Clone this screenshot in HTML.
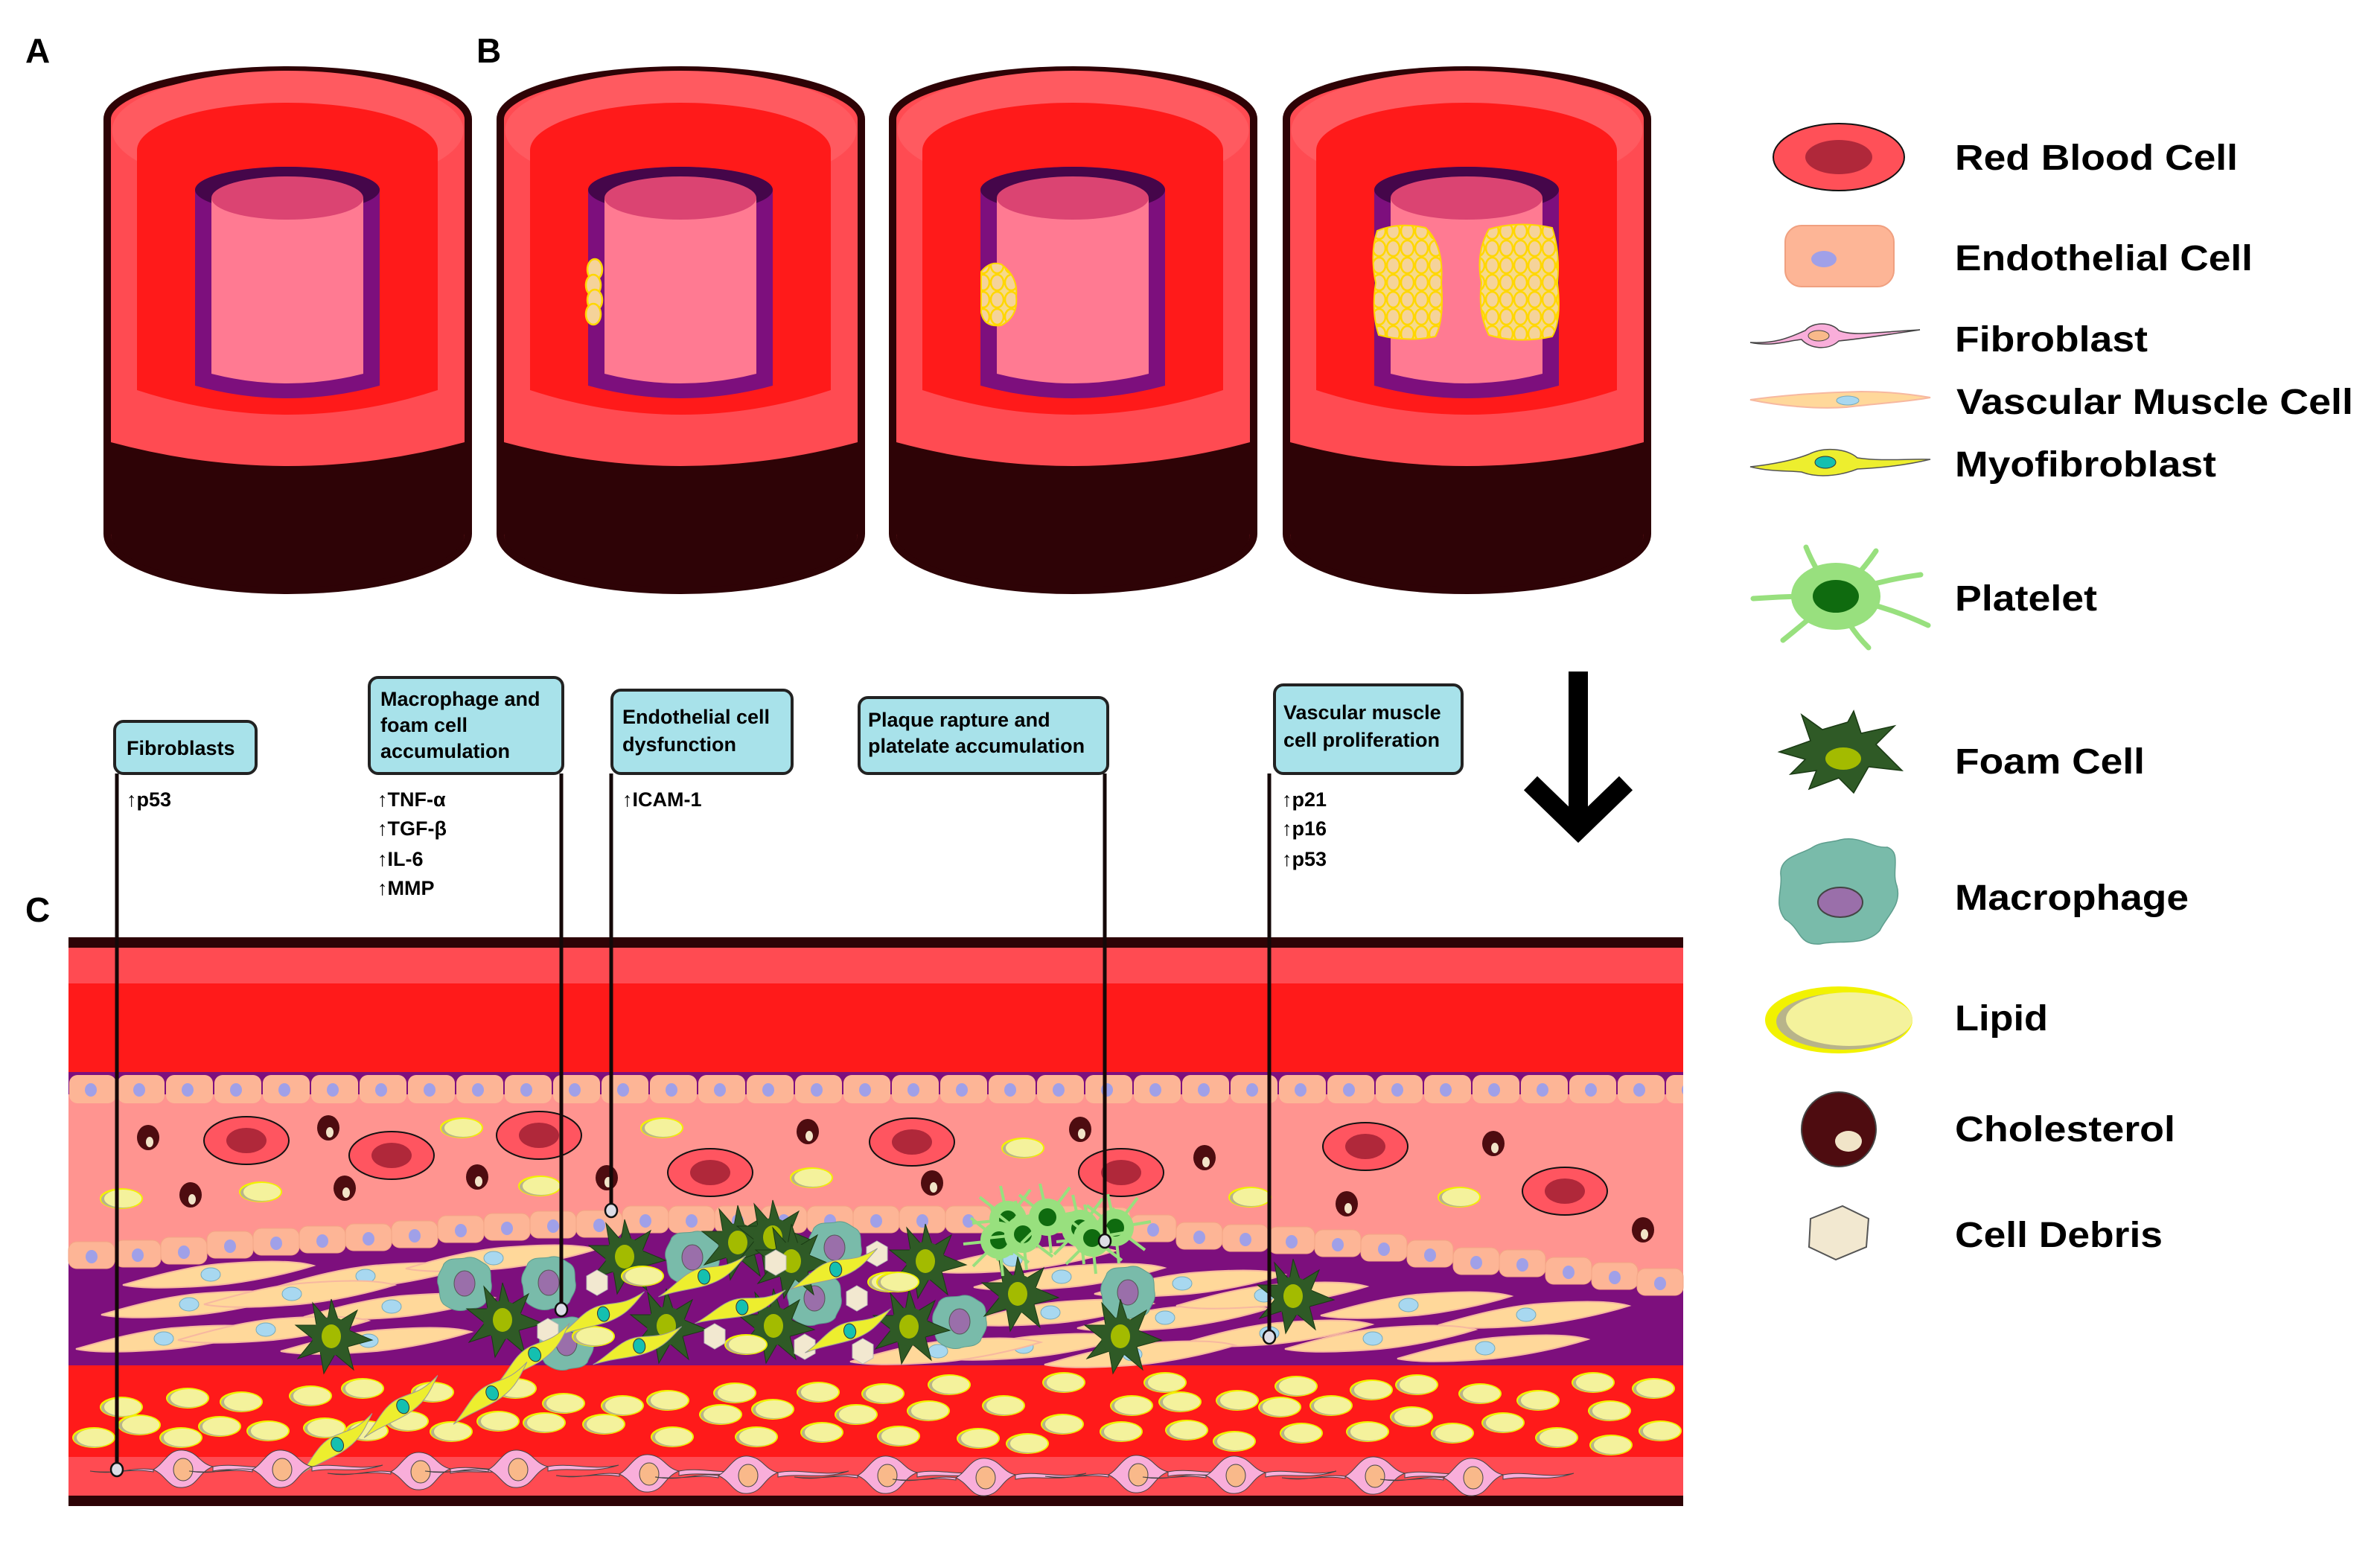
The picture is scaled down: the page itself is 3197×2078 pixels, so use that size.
<!DOCTYPE html>
<html><head><meta charset="utf-8"><style>
html,body{margin:0;padding:0;background:#fff;}
svg{display:block;}
text{font-family:"Liberation Sans",Arial,sans-serif;font-weight:bold;fill:#000;}
</style></head><body>
<svg width="3197" height="2078" viewBox="0 0 3197 2078" xmlns="http://www.w3.org/2000/svg">
<defs>
<pattern id="lipP" x="0" y="0" width="19" height="23" patternUnits="userSpaceOnUse">
<rect width="19" height="23" fill="#F6D98A"/>
<ellipse cx="9.5" cy="11.5" rx="8.5" ry="10.5" fill="#F5D39A" stroke="#FFD700" stroke-width="2.5"/>
</pattern>
<pattern id="enp" x="92" y="1444" width="65" height="38" patternUnits="userSpaceOnUse">
<rect x="1" y="0" width="63" height="38" rx="11" fill="#FDB596"/>
<ellipse cx="30" cy="20" rx="8" ry="9" fill="#A0A0E8"/>
</pattern>
<g id="cyl">
<path d="M0,160 A242.5,66 0 0 1 485,160 L485,717 A242.5,76 0 0 1 0,717 Z" fill="#FF4B52" stroke="#2E0306" stroke-width="10"/>
<ellipse cx="242.5" cy="175" rx="236" ry="80" fill="#FF5A60"/>
<path d="M5,594 Q242.5,658 480,594 L480,717 A237.5,72 0 0 1 5,717 Z" fill="#2E0306"/>
<path d="M40,202 A202,64 0 0 1 444,202 L444,524 Q242.5,590 40,524 Z" fill="#FF1A1A"/>
<path d="M118,255 A124,31 0 0 1 366,255 L366,518 Q242,552 118,518 Z" fill="#7D0F7D"/>
<ellipse cx="242" cy="255" rx="124" ry="31" fill="#45064A"/>
<path d="M140,266 L344,266 L344,502 Q242,528 140,502 Z" fill="#FF7A92"/>
<ellipse cx="242" cy="266" rx="102" ry="29" fill="#DB4472"/>
</g>
<g id="en"><rect x="-31" y="-18" width="62" height="36" rx="11" fill="#FDB596" stroke="#F3A585" stroke-width="1"/><ellipse cx="0" cy="2" rx="8" ry="9" fill="#A0A0E8"/></g>
<g id="rbc"><ellipse rx="57" ry="32" fill="#FF5560" stroke="#111" stroke-width="2"/><ellipse rx="27" ry="17" fill="#B0283A"/></g>
<g id="ch"><ellipse rx="15" ry="17" fill="#4E0C10"/><ellipse cx="2" cy="6" rx="5" ry="7" fill="#F1E4C8"/></g>
<g id="lp"><ellipse rx="29" ry="14" fill="#F2F200"/><ellipse cx="-1" cy="1" rx="26" ry="12" fill="#B8B48A"/><ellipse cx="2" cy="0" rx="25" ry="12" fill="#F4F29C"/></g>
<g id="vm"><path d="M-128 14 C-80 0 -40 -10 0 -14 C50 -18 100 -20 128 -12 C90 0 40 10 0 14 C-50 18 -100 20 -128 14Z" fill="#FFD89A" stroke="#F7B8A0" stroke-width="2"/><ellipse cx="-10" cy="0" rx="13" ry="9" fill="#A8D8F0" stroke="#7AB" stroke-width="1"/></g>
<g id="fo"><path d="M0,-50 L10,-20 L35,-35 L24,-8 L55,5 L22,14 L30,45 L5,24 L-10,50 L-15,20 L-45,30 L-24,4 L-48,-15 L-20,-15 L-25,-45 L-5,-22 Z" fill="#2F5A26" stroke="#1a3a14" stroke-width="1"/><circle r="26" fill="#2F5A26"/><ellipse rx="13" ry="16" fill="#A3BB00"/></g>
<g id="ma"><path d="M0,-34 C14,-38 20,-30 28,-26 C38,-20 34,-8 36,0 C38,12 30,18 28,26 C20,36 8,32 0,36 C-10,38 -20,34 -28,28 C-36,20 -32,8 -36,0 C-38,-12 -30,-18 -28,-26 C-20,-36 -10,-32 0,-34Z" fill="#79BBAA" stroke="#5E9E8E" stroke-width="1"/><ellipse rx="14" ry="17" fill="#9A6FAA" stroke="#555" stroke-width="1"/></g>
<g id="my"><path d="M-65 14 C-40 4 -25 -14 0 -14 C20 -14 30 -8 60 -20 C40 -4 30 6 0 10 C-25 12 -40 10 -65 14Z" fill="#EDEE2E" stroke="#999" stroke-width="1"/><ellipse cx="0" cy="-2" rx="8" ry="10" fill="#14C0B0" stroke="#333" stroke-width="1"/></g>
<g id="db"><polygon points="0,-17 14,-9 14,9 0,17 -14,9 -14,-9" fill="#F2E8D0" stroke="#BBB" stroke-width="1"/></g>
<g id="pl"><g stroke="#98E07E" stroke-width="4" fill="none"><path d="M0,0 L-10,-45"/><path d="M0,0 L30,-40"/><path d="M0,0 L48,-8"/><path d="M0,0 L40,30"/><path d="M0,0 L5,48"/><path d="M0,0 L-35,35"/><path d="M0,0 L-48,5"/><path d="M0,0 L-38,-30"/></g><circle r="25" fill="#98E07E"/><circle r="12" fill="#0F6B0F"/></g>
<g id="fb"><path d="M-40,0 C-70,-4 -90,8 -125,2 C-90,6 -70,-2 -40,3Z" fill="#F9AEDA" stroke="#444" stroke-width="1"/><path d="M40,-4 C70,-10 100,2 135,-6 C100,6 70,-4 40,2Z" fill="#F9AEDA" stroke="#444" stroke-width="1"/><path d="M-40,0 C-25,-8 -20,-28 0,-26 C20,-24 22,-8 40,-4 C20,4 20,22 0,24 C-20,26 -22,8 -40,0Z" fill="#F9AEDA" stroke="#444" stroke-width="1"/><ellipse rx="13" ry="15" fill="#F9B98A" stroke="#444" stroke-width="1"/></g>
</defs>

<text x="34" y="84" font-size="46">A</text>
<text x="640" y="84" font-size="46">B</text>
<text x="34" y="1238" font-size="46">C</text>

<use href="#cyl" x="144" y="0"/>
<use href="#cyl" x="672" y="0"/>
<use href="#cyl" x="1199" y="0"/>
<use href="#cyl" x="1728" y="0"/>
<g fill="#F5D39A" stroke="#FFD700" stroke-width="2.5">
<ellipse cx="799" cy="362" rx="10" ry="14"/><ellipse cx="797" cy="383" rx="10" ry="14"/><ellipse cx="799" cy="403" rx="10" ry="14"/><ellipse cx="797" cy="422" rx="10" ry="14"/>
</g>
<path d="M1318,365 Q1330,350 1345,355 Q1368,372 1365,398 Q1368,425 1345,437 Q1322,440 1318,420 Z" fill="url(#lipP)" stroke="#FFD700" stroke-width="2"/>
<path d="M1850,310 Q1880,298 1915,306 Q1940,330 1936,380 Q1940,430 1928,452 Q1890,460 1852,450 Q1842,420 1848,380 Q1840,340 1850,310Z" fill="url(#lipP)" stroke="#FFD700" stroke-width="2"/>
<path d="M2000,308 Q2040,296 2085,306 Q2096,340 2092,380 Q2098,430 2085,452 Q2040,462 2000,450 Q1985,420 1990,380 Q1982,340 2000,308Z" fill="url(#lipP)" stroke="#FFD700" stroke-width="2"/>

<line x1="2120" y1="902" x2="2120" y2="1100" stroke="#000" stroke-width="26"/>
<polyline points="2056,1052 2120,1114 2184,1052" fill="none" stroke="#000" stroke-width="26"/>

<rect x="92" y="1259" width="2169" height="14" fill="#2E0306"/>
<rect x="92" y="1273" width="2169" height="48" fill="#FF4B52"/>
<rect x="92" y="1321" width="2169" height="123" fill="#FF1A1A"/>
<rect x="92" y="1440" width="2169" height="394" fill="#7D0F7D"/>
<polygon points="92,1470 2261,1470 2261,1722 2230,1722 2169,1714 2107,1707 2045,1697 1983,1694 1921,1684 1859,1676 1797,1670 1735,1666 1673,1663 1611,1660 1549,1650 1487,1640 1425,1638 805,1644 743,1645 681,1648 619,1651 557,1658 495,1662 433,1665 371,1668 309,1672 247,1680 185,1684 123,1686 92,1686" fill="#FF9490"/>
<rect x="92" y="1444" width="2169" height="38" fill="url(#enp)"/>
<rect x="92" y="1834" width="2169" height="123" fill="#FF1A1A"/>
<rect x="92" y="1957" width="2169" height="52" fill="#FF4B52"/>
<rect x="92" y="2009" width="2169" height="14" fill="#2E0306"/>

<use href="#rbc" x="331" y="1532"/><use href="#rbc" x="526" y="1552"/><use href="#rbc" x="724" y="1525"/><use href="#rbc" x="954" y="1575"/>
<use href="#rbc" x="1225" y="1534"/><use href="#rbc" x="1506" y="1575"/><use href="#rbc" x="1834" y="1540"/><use href="#rbc" x="2102" y="1600"/>
<use href="#ch" x="199" y="1528"/><use href="#ch" x="441" y="1515"/><use href="#ch" x="256" y="1605"/><use href="#ch" x="463" y="1596"/><use href="#ch" x="641" y="1581"/><use href="#ch" x="815" y="1582"/><use href="#ch" x="1085" y="1520"/>
<use href="#ch" x="1451" y="1517"/><use href="#ch" x="1252" y="1589"/><use href="#ch" x="1618" y="1555"/><use href="#ch" x="2006" y="1536"/><use href="#ch" x="1809" y="1617"/><use href="#ch" x="2207" y="1652"/>
<use href="#lp" x="620" y="1515"/><use href="#lp" x="163" y="1610"/><use href="#lp" x="350" y="1601"/><use href="#lp" x="725" y="1593"/><use href="#lp" x="889" y="1515"/><use href="#lp" x="1090" y="1582"/>
<use href="#lp" x="1374" y="1542"/><use href="#lp" x="1679" y="1608"/><use href="#lp" x="1960" y="1608"/>

<use href="#vm" x="293" y="1712"/><use href="#vm" x="501" y="1714"/><use href="#vm" x="264" y="1752"/><use href="#vm" x="402" y="1738"/><use href="#vm" x="536" y="1755"/>
<use href="#vm" x="230" y="1798"/><use href="#vm" x="367" y="1786"/><use href="#vm" x="505" y="1801"/><use href="#vm" x="673" y="1690"/>
<use href="#vm" x="1370" y="1692"/><use href="#vm" x="1436" y="1715"/><use href="#vm" x="1598" y="1724"/><use href="#vm" x="1902" y="1753"/><use href="#vm" x="2060" y="1766"/>
<use href="#vm" x="1854" y="1798"/><use href="#vm" x="2005" y="1811"/><use href="#vm" x="1421" y="1763"/><use href="#vm" x="1575" y="1770"/><use href="#vm" x="1385" y="1809"/>
<use href="#vm" x="1715" y="1791"/><use href="#vm" x="1531" y="1819"/><use href="#vm" x="1708" y="1740"/><use href="#vm" x="1270" y="1815"/>

<use href="#en" x="123" y="1686"/><use href="#en" x="185" y="1684"/><use href="#en" x="247" y="1680"/><use href="#en" x="309" y="1672"/><use href="#en" x="371" y="1668"/>
<use href="#en" x="433" y="1665"/><use href="#en" x="495" y="1662"/><use href="#en" x="557" y="1658"/><use href="#en" x="619" y="1651"/><use href="#en" x="681" y="1648"/>
<use href="#en" x="743" y="1645"/><use href="#en" x="805" y="1644"/><use href="#en" x="867" y="1638"/><use href="#en" x="929" y="1638"/><use href="#en" x="991" y="1638"/>
<use href="#en" x="1053" y="1638"/><use href="#en" x="1115" y="1638"/><use href="#en" x="1177" y="1638"/><use href="#en" x="1239" y="1638"/><use href="#en" x="1301" y="1638"/>
<use href="#en" x="1363" y="1638"/><use href="#en" x="1425" y="1638"/><use href="#en" x="1487" y="1640"/><use href="#en" x="1549" y="1650"/><use href="#en" x="1611" y="1660"/>
<use href="#en" x="1673" y="1663"/><use href="#en" x="1735" y="1666"/><use href="#en" x="1797" y="1670"/><use href="#en" x="1859" y="1676"/><use href="#en" x="1921" y="1684"/>
<use href="#en" x="1983" y="1694"/><use href="#en" x="2045" y="1697"/><use href="#en" x="2107" y="1707"/><use href="#en" x="2169" y="1714"/><use href="#en" x="2230" y="1722"/>

<use href="#ma" x="624" y="1724"/><use href="#ma" x="737" y="1723"/><use href="#ma" x="930" y="1689"/><use href="#ma" x="1121" y="1676"/><use href="#ma" x="1094" y="1744"/><use href="#ma" x="761" y="1804"/>
<use href="#ma" x="1289" y="1775"/><use href="#ma" x="1515" y="1736"/>
<use href="#fo" x="445" y="1795"/><use href="#fo" x="675" y="1773"/><use href="#fo" x="839" y="1688"/><use href="#fo" x="895" y="1781"/><use href="#fo" x="991" y="1669"/>
<use href="#fo" x="1038" y="1662"/><use href="#fo" x="1039" y="1781"/><use href="#fo" x="1063" y="1694"/>
<use href="#fo" x="1243" y="1694"/><use href="#fo" x="1221" y="1782"/><use href="#fo" x="1367" y="1738"/><use href="#fo" x="1505" y="1795"/><use href="#fo" x="1737" y="1741"/>
<use href="#lp" x="863" y="1714"/><use href="#lp" x="797" y="1795"/><use href="#lp" x="1002" y="1806"/><use href="#lp" x="1194" y="1722"/><use href="#lp" x="1206" y="1722"/>
<use href="#db" x="802" y="1723"/><use href="#db" x="736" y="1788"/><use href="#db" x="960" y="1795"/><use href="#db" x="1042" y="1696"/><use href="#db" x="1081" y="1809"/>
<use href="#db" x="1151" y="1744"/><use href="#db" x="1159" y="1815"/><use href="#db" x="1178" y="1684"/>
<use href="#my" transform="translate(811,1767) rotate(-12)"/><use href="#my" transform="translate(719,1821) rotate(-25)"/><use href="#my" transform="translate(859,1810) rotate(-8)"/>
<use href="#my" transform="translate(946,1717) rotate(-10)"/><use href="#my" transform="translate(997,1758) rotate(-5)"/><use href="#my" transform="translate(1123,1707) rotate(-10)"/><use href="#my" transform="translate(1142,1790) rotate(-12)"/>
<use href="#pl" x="1354" y="1638"/><use href="#pl" x="1342" y="1666"/><use href="#pl" x="1374" y="1658"/><use href="#pl" x="1407" y="1635"/><use href="#pl" x="1451" y="1650"/><use href="#pl" x="1498" y="1649"/><use href="#pl" x="1467" y="1663"/>

<g>
<use href="#lp" x="163" y="1890"/><use href="#lp" x="252" y="1878"/><use href="#lp" x="324" y="1883"/><use href="#lp" x="417" y="1875"/><use href="#lp" x="487" y="1865"/><use href="#lp" x="581" y="1870"/><use href="#lp" x="692" y="1865"/><use href="#lp" x="757" y="1885"/><use href="#lp" x="836" y="1888"/><use href="#lp" x="897" y="1881"/><use href="#lp" x="987" y="1871"/><use href="#lp" x="1099" y="1870"/><use href="#lp" x="1186" y="1872"/>
<use href="#lp" x="187" y="1914"/><use href="#lp" x="295" y="1916"/><use href="#lp" x="436" y="1918"/><use href="#lp" x="547" y="1909"/><use href="#lp" x="669" y="1909"/><use href="#lp" x="731" y="1911"/><use href="#lp" x="811" y="1913"/><use href="#lp" x="968" y="1900"/><use href="#lp" x="1038" y="1893"/><use href="#lp" x="1150" y="1900"/>
<use href="#lp" x="126" y="1931"/><use href="#lp" x="243" y="1931"/><use href="#lp" x="360" y="1922"/><use href="#lp" x="493" y="1922"/><use href="#lp" x="606" y="1923"/><use href="#lp" x="903" y="1930"/><use href="#lp" x="1016" y="1930"/><use href="#lp" x="1104" y="1924"/>
<use href="#lp" x="1275" y="1860"/><use href="#lp" x="1429" y="1857"/><use href="#lp" x="1565" y="1857"/><use href="#lp" x="1741" y="1862"/><use href="#lp" x="1842" y="1867"/><use href="#lp" x="1903" y="1860"/><use href="#lp" x="1988" y="1872"/><use href="#lp" x="2066" y="1881"/><use href="#lp" x="2140" y="1857"/><use href="#lp" x="2221" y="1865"/>
<use href="#lp" x="1247" y="1895"/><use href="#lp" x="1348" y="1888"/><use href="#lp" x="1520" y="1888"/><use href="#lp" x="1585" y="1883"/><use href="#lp" x="1662" y="1881"/><use href="#lp" x="1719" y="1890"/><use href="#lp" x="1788" y="1888"/><use href="#lp" x="1896" y="1903"/><use href="#lp" x="2019" y="1911"/><use href="#lp" x="2162" y="1895"/>
<use href="#lp" x="1207" y="1929"/><use href="#lp" x="1314" y="1932"/><use href="#lp" x="1380" y="1939"/><use href="#lp" x="1427" y="1913"/><use href="#lp" x="1506" y="1923"/><use href="#lp" x="1594" y="1921"/><use href="#lp" x="1658" y="1936"/><use href="#lp" x="1748" y="1925"/><use href="#lp" x="1837" y="1923"/><use href="#lp" x="1951" y="1925"/><use href="#lp" x="2091" y="1931"/><use href="#lp" x="2164" y="1941"/><use href="#lp" x="2230" y="1922"/>
</g>
<use href="#my" transform="translate(542,1891) rotate(-25)"/><use href="#my" transform="translate(662,1873) rotate(-25)"/><use href="#my" transform="translate(454,1942) rotate(-25)"/>

<use href="#fb" x="246" y="1974"/><use href="#fb" x="379" y="1974"/><use href="#fb" x="565" y="1977"/><use href="#fb" x="696" y="1974"/><use href="#fb" x="872" y="1980"/><use href="#fb" x="1005" y="1982"/>
<use href="#fb" x="1192" y="1982"/><use href="#fb" x="1324" y="1985"/><use href="#fb" x="1529" y="1981"/><use href="#fb" x="1660" y="1982"/><use href="#fb" x="1847" y="1983"/><use href="#fb" x="1979" y="1985"/>

<g stroke="#140808" stroke-width="5" fill="none">
<line x1="157" y1="1039" x2="157" y2="1966"/>
<line x1="754" y1="1039" x2="754" y2="1750"/>
<line x1="821" y1="1039" x2="821" y2="1617"/>
<line x1="1484" y1="1039" x2="1484" y2="1658"/>
<line x1="1705" y1="1039" x2="1705" y2="1787"/>
</g>
<g fill="#DDDDE6" stroke="#111" stroke-width="2.5">
<ellipse cx="157" cy="1974" rx="8" ry="9"/>
<ellipse cx="754" cy="1759" rx="8" ry="9"/>
<ellipse cx="821" cy="1626" rx="8" ry="9"/>
<ellipse cx="1484" cy="1667" rx="8" ry="9"/>
<ellipse cx="1705" cy="1796" rx="8" ry="9"/>
</g>

<g fill="#A8E2EA" stroke="#222" stroke-width="4">
<rect x="154" y="969" width="190" height="70" rx="12"/>
<rect x="496" y="910" width="260" height="129" rx="12"/>
<rect x="822" y="927" width="242" height="112" rx="12"/>
<rect x="1154" y="937" width="334" height="102" rx="12"/>
<rect x="1712" y="920" width="252" height="119" rx="12"/>
</g>
<g font-size="27">
<text x="170" y="1014">Fibroblasts</text>
<text x="511" y="948">Macrophage and</text>
<text x="511" y="983">foam cell</text>
<text x="511" y="1018">accumulation</text>
<text x="836" y="972">Endothelial cell</text>
<text x="836" y="1009">dysfunction</text>
<text x="1166" y="976">Plaque rapture and</text>
<text x="1166" y="1011">platelate accumulation</text>
<text x="1724" y="966">Vascular muscle</text>
<text x="1724" y="1003">cell proliferation</text>
<text x="170" y="1083">↑p53</text>
<text x="507" y="1083">↑TNF-α</text>
<text x="507" y="1122">↑TGF-β</text>
<text x="507" y="1163">↑IL-6</text>
<text x="507" y="1202">↑MMP</text>
<text x="836" y="1083">↑ICAM-1</text>
<text x="1722" y="1083">↑p21</text>
<text x="1722" y="1122">↑p16</text>
<text x="1722" y="1163">↑p53</text>
</g>

<ellipse cx="2470" cy="211" rx="88" ry="45" fill="#FF5058" stroke="#111" stroke-width="2"/>
<ellipse cx="2470" cy="211" rx="45" ry="23" fill="#B0283A"/>
<rect x="2398" y="303" width="146" height="82" rx="22" fill="#FDB596" stroke="#F0A080" stroke-width="2"/>
<ellipse cx="2450" cy="348" rx="17" ry="11" fill="#A0A0E8"/>
<path d="M2351,460 C2390,462 2410,450 2425,444 C2435,432 2460,432 2470,444 C2490,452 2520,446 2579,443 C2520,452 2490,456 2470,458 C2455,472 2430,468 2420,456 C2400,458 2380,466 2351,460Z" fill="#F9AEDA" stroke="#444" stroke-width="1.5"/>
<ellipse cx="2443" cy="451" rx="14" ry="7" fill="#F9B98A" stroke="#444" stroke-width="1"/>
<path d="M2351,537 C2400,530 2460,527 2500,526 C2540,526 2570,530 2593,534 C2560,540 2520,542 2480,547 C2440,550 2390,545 2351,537Z" fill="#FFD89A" stroke="#F7B8A0" stroke-width="2"/>
<ellipse cx="2482" cy="538" rx="15" ry="6" fill="#A8D8F0" stroke="#7AB" stroke-width="1"/>
<path d="M2351,627 C2380,624 2410,618 2430,610 C2450,600 2480,602 2495,615 C2530,620 2560,616 2593,617 C2560,625 2530,628 2495,630 C2470,640 2440,642 2420,634 C2400,632 2380,634 2351,627Z" fill="#EDEE2E" stroke="#555" stroke-width="1.5"/>
<ellipse cx="2452" cy="621" rx="14" ry="8" fill="#14C0B0" stroke="#333" stroke-width="1"/>
<g stroke="#98E07E" stroke-width="7" fill="none" stroke-linecap="round">
<path d="M2466,801 Q2440,770 2426,735"/><path d="M2466,801 Q2500,770 2520,740"/><path d="M2466,801 Q2520,780 2580,772"/><path d="M2466,801 Q2530,812 2590,840"/>
<path d="M2466,801 Q2480,840 2510,870"/><path d="M2466,801 Q2420,840 2395,860"/><path d="M2466,801 Q2410,800 2355,804"/>
</g>
<ellipse cx="2466" cy="801" rx="60" ry="45" fill="#98E07E"/>
<ellipse cx="2466" cy="801" rx="31" ry="22" fill="#0F6B0F"/>
<path d="M2390,1010 L2432,995 L2420,960 L2448,980 L2482,970 L2490,955 L2500,985 L2545,975 L2520,1000 L2555,1035 L2510,1030 L2490,1065 L2470,1045 L2430,1060 L2440,1035 L2405,1040 L2425,1020 Z" fill="#2F5A26" stroke="#1a3a14" stroke-width="1.5"/>
<ellipse cx="2476" cy="1019" rx="24" ry="15" fill="#A3BB00"/>
<path d="M2472,1128 C2500,1122 2515,1140 2535,1138 C2555,1145 2540,1170 2548,1190 C2555,1215 2535,1230 2525,1250 C2505,1272 2470,1262 2445,1268 C2415,1270 2420,1248 2398,1235 C2382,1215 2395,1195 2392,1175 C2390,1150 2420,1148 2435,1138 C2448,1130 2460,1132 2472,1128Z" fill="#79BBAA" stroke="#5E9E8E" stroke-width="1.5"/>
<ellipse cx="2472" cy="1212" rx="30" ry="20" fill="#9A6FAA" stroke="#444" stroke-width="2"/>
<ellipse cx="2470" cy="1370" rx="99" ry="45" fill="#F2F200"/>
<ellipse cx="2476" cy="1372" rx="90" ry="38" fill="#B8B48A"/>
<ellipse cx="2484" cy="1369" rx="85" ry="36" fill="#F4F29C"/>
<circle cx="2470" cy="1517" r="50" fill="#4E0C10" stroke="#444" stroke-width="2"/>
<ellipse cx="2483" cy="1533" rx="18" ry="14" fill="#F1E4C8"/>
<polygon points="2432,1637 2475,1620 2510,1637 2507,1675 2466,1692 2430,1675" fill="#F2E8D0" stroke="#555" stroke-width="2"/>

<g font-size="48">
<text x="2626" y="228" textLength="380" lengthAdjust="spacingAndGlyphs">Red Blood Cell</text>
<text x="2626" y="363" textLength="400" lengthAdjust="spacingAndGlyphs">Endothelial Cell</text>
<text x="2626" y="472" textLength="259" lengthAdjust="spacingAndGlyphs">Fibroblast</text>
<text x="2628" y="556" textLength="533" lengthAdjust="spacingAndGlyphs">Vascular Muscle Cell</text>
<text x="2626" y="640" textLength="351" lengthAdjust="spacingAndGlyphs">Myofibroblast</text>
<text x="2626" y="820" textLength="191" lengthAdjust="spacingAndGlyphs">Platelet</text>
<text x="2626" y="1039" textLength="255" lengthAdjust="spacingAndGlyphs">Foam Cell</text>
<text x="2626" y="1222" textLength="314" lengthAdjust="spacingAndGlyphs">Macrophage</text>
<text x="2626" y="1384" textLength="125" lengthAdjust="spacingAndGlyphs">Lipid</text>
<text x="2626" y="1533" textLength="296" lengthAdjust="spacingAndGlyphs">Cholesterol</text>
<text x="2626" y="1675" textLength="279" lengthAdjust="spacingAndGlyphs">Cell Debris</text>
</g>
</svg>
</body></html>
